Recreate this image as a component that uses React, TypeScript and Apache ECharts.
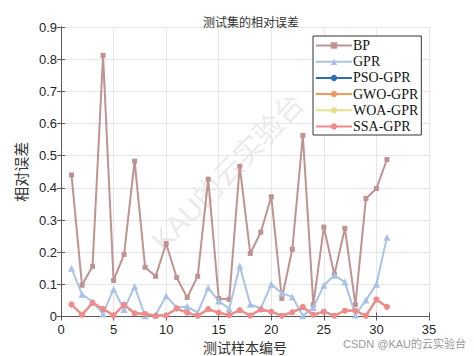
import React, { useEffect, useRef } from "react";
import * as echarts from "echarts";

const samples = Array.from({ length: 31 }, (_, i) => i + 1);
const xTicks = [0, 5, 10, 15, 20, 25, 30, 35];
const yTicks = [0, 0.1, 0.2, 0.3, 0.4, 0.5, 0.6, 0.7, 0.8, 0.9];

const bp = [0.44, 0.097, 0.156, 0.812, 0.112, 0.193, 0.483, 0.153, 0.125, 0.227, 0.121, 0.059, 0.125, 0.427, 0.056, 0.053, 0.467, 0.196, 0.262, 0.372, 0.056, 0.209, 0.563, 0.037, 0.278, 0.13, 0.274, 0.037, 0.367, 0.398, 0.488];
const gpr = [0.15, 0.069, 0.046, 0.008, 0.085, 0.022, 0.093, 0.002, 0.005, 0.064, 0.028, 0.031, 0.012, 0.089, 0.048, 0.024, 0.157, 0.038, 0.025, 0.1, 0.072, 0.061, 0.002, 0.028, 0.097, 0.128, 0.107, 0.005, 0.051, 0.1, 0.246];
const psoGpr = [0.036, 0.006, 0.042, 0.023, 0.004, 0.036, 0.01, 0.008, 0.003, 0.004, 0.024, 0.012, 0.003, 0.022, 0.012, 0.005, 0.019, 0.004, 0.021, 0.015, 0.003, 0.013, 0.028, 0.006, 0.015, 0.003, 0.018, 0.018, 0.003, 0.052, 0.03];
const gwoGpr = [0.037, 0.005, 0.042, 0.024, 0.003, 0.037, 0.01, 0.008, 0.002, 0.003, 0.025, 0.012, 0.002, 0.023, 0.012, 0.004, 0.02, 0.003, 0.022, 0.015, 0.002, 0.013, 0.029, 0.005, 0.015, 0.002, 0.018, 0.018, 0.002, 0.053, 0.03];
const woaGpr = [0.037, 0.005, 0.043, 0.024, 0.003, 0.037, 0.01, 0.008, 0.002, 0.003, 0.025, 0.012, 0.002, 0.023, 0.012, 0.004, 0.02, 0.003, 0.022, 0.015, 0.002, 0.013, 0.03, 0.005, 0.015, 0.002, 0.018, 0.018, 0.002, 0.053, 0.03];
const ssaGpr = [0.038, 0.005, 0.043, 0.024, 0.003, 0.037, 0.01, 0.008, 0.002, 0.003, 0.025, 0.012, 0.002, 0.023, 0.012, 0.004, 0.02, 0.003, 0.022, 0.015, 0.002, 0.013, 0.03, 0.005, 0.015, 0.002, 0.018, 0.018, 0.002, 0.053, 0.03];

const seriesNames = ["BP", "GPR", "PSO-GPR", "GWO-GPR", "WOA-GPR", "SSA-GPR"];
const seriesData = [bp, gpr, psoGpr, gwoGpr, woaGpr, ssaGpr];
const seriesColors = ["#c09291", "#a9c3e6", "#2c6db0", "#f0985e", "#e3e08e", "#f28a8c"];
const seriesSymbols = ["rect", "triangle", "circle", "circle", "circle", "circle"];
const symbolSizes = [5, 7, 5, 4, 4, 6];

export default function App() {
  const ref = useRef<HTMLDivElement>(null);
  useEffect(() => {
    if (!ref.current) return;
    const chart = echarts.init(ref.current, undefined, { renderer: "svg" });
    const axisColor = "#5a5a5a";
    const tickFont = { fontFamily: "Liberation Sans, Arial, sans-serif", fontSize: 13, color: "#262626" };
    chart.setOption({
      animation: false,
      backgroundColor: "#ffffff",
      title: {
        text: "测试集的相对误差",
        left: 246,
        textAlign: "center",
        top: 10,
        textStyle: { fontFamily: "Noto Sans CJK SC", fontSize: 12, fontWeight: "normal", color: "#333" },
      },
      grid: { left: 61, right: 45, top: 27, bottom: 39.5, containLabel: false, outerBoundsMode: "none", show: false },
      legend: {
        orient: "vertical",
        left: 313,
        top: 36,
        data: seriesNames.map((n) => ({ name: n })),
        backgroundColor: "#ffffff",
        borderColor: "#333",
        borderWidth: 1,
        borderRadius: 0,
        padding: [2, 3, 1, 2],
        itemWidth: 36,
        itemHeight: 8,
        itemGap: 1.2,
        textStyle: { fontFamily: "Liberation Serif, Times New Roman, serif", fontSize: 14, lineHeight: 15, color: "#111", padding: [0, 0, 0, -4] },
      },
      xAxis: [
        {
          type: "value",
          min: 0,
          max: 35,
          interval: 5,
          name: "测试样本编号",
          nameLocation: "middle",
          nameGap: 20,
          nameTextStyle: { fontFamily: "Noto Sans CJK SC", fontSize: 14, color: "#333" },
          axisLine: { show: true, onZero: false, lineStyle: { color: axisColor, width: 1 } },
          axisTick: { show: true, inside: true, length: 4, lineStyle: { color: axisColor } },
          axisLabel: { ...tickFont, margin: 6, formatter: (v: number) => (xTicks.includes(v) ? String(v) : "") },
          splitLine: { show: true, lineStyle: { color: "#e6e6e6", width: 1 } },
        },
        {
          type: "value",
          position: "top",
          min: 0,
          max: 35,
          interval: 5,
          axisLine: { show: true, lineStyle: { color: axisColor, width: 1 } },
          axisTick: { show: true, inside: true, length: 4, lineStyle: { color: axisColor } },
          axisLabel: { show: false },
          splitLine: { show: false },
        },
      ],
      yAxis: [
        {
          type: "value",
          min: 0,
          max: 0.9,
          interval: 0.1,
          name: "相对误差",
          nameLocation: "middle",
          nameGap: 23,
          nameRotate: 90,
          nameTextStyle: { fontFamily: "Noto Sans CJK SC", fontSize: 15, color: "#333" },
          axisLine: { show: true, onZero: false, lineStyle: { color: axisColor, width: 1 } },
          axisTick: { show: true, inside: true, length: 4, lineStyle: { color: axisColor } },
          axisLabel: {
            ...tickFont,
            margin: 4,
            formatter: (v: number) => {
              const t = yTicks.find((y) => Math.abs(y - v) < 1e-9);
              return t === undefined ? "" : t === 0 ? "0" : t.toFixed(1);
            },
          },
          splitLine: { show: true, lineStyle: { color: "#e6e6e6", width: 1 } },
        },
        {
          type: "value",
          position: "right",
          min: 0,
          max: 0.9,
          interval: 0.1,
          axisLine: { show: true, lineStyle: { color: axisColor, width: 1 } },
          axisTick: { show: true, inside: true, length: 4, lineStyle: { color: axisColor } },
          axisLabel: { show: false },
          splitLine: { show: false },
        },
      ],
      graphic: [
        {
          type: "text",
          x: 228,
          y: 172,
          rotation: (46 * Math.PI) / 180,
          silent: true,
          z: 0,
          style: {
            text: "KAU的云实验台",
            fontFamily: "Liberation Sans, Noto Sans CJK SC, sans-serif",
            fontSize: 29,
            fill: "rgba(190,190,190,0.32)",
            align: "center",
            verticalAlign: "middle",
          },
        },
        {
          type: "text",
          right: 8,
          top: 338,
          silent: true,
          style: {
            text: "CSDN @KAU的云实验台",
            fontFamily: "Liberation Sans, Noto Sans CJK SC, sans-serif",
            fontSize: 11,
            fill: "#9a9a9a",
          },
        },
      ],
      series: seriesNames.map((name, i) => ({
        name,
        type: "line",
        data: samples.map((s, j) => [s, seriesData[i][j]]),
        symbol: seriesSymbols[i],
        symbolSize: symbolSizes[i],
        showSymbol: true,
        lineStyle: { color: seriesColors[i], width: 2 },
        itemStyle: { color: seriesColors[i], borderWidth: 0 },
        z: 2 + i,
      })),
    });
    return () => chart.dispose();
  }, []);
  return <div ref={ref} style={{ width: 474, height: 356, position: "absolute", left: 0, top: 0 }} />;
}
